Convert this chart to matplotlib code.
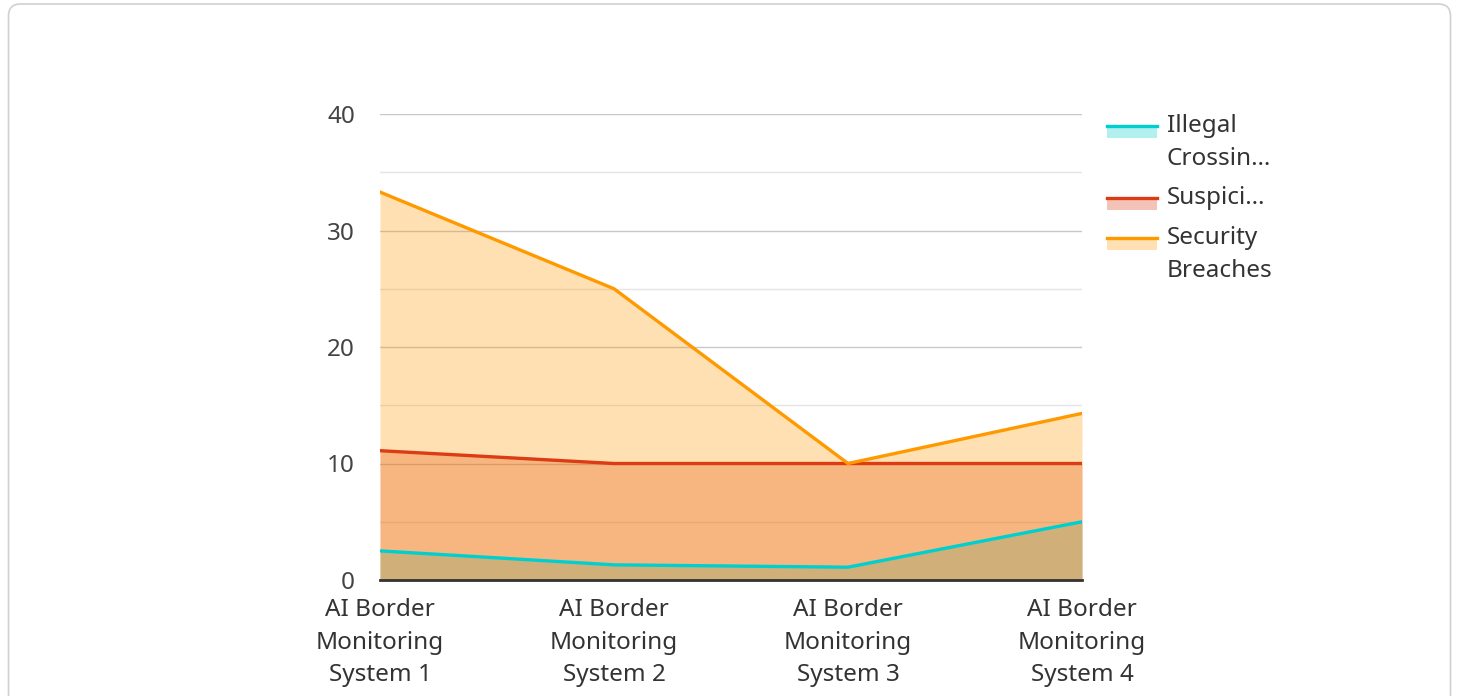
import matplotlib
matplotlib.use("Agg")
import matplotlib.pyplot as plt
from matplotlib.patches import FancyBboxPatch, Rectangle
from matplotlib.lines import Line2D

plt.rcParams["font.family"] = ["Noto Sans", "DejaVu Sans"]

# ── 데이터 ──
systems = ["AI Border\nMonitoring\nSystem 1", "AI Border\nMonitoring\nSystem 2",
           "AI Border\nMonitoring\nSystem 3", "AI Border\nMonitoring\nSystem 4"]
illegal = [2.5, 1.3, 1.1, 5.0]
suspicious = [11.1, 10.0, 10.0, 10.0]
breaches = [33.3, 25.0, 10.0, 14.3]
series_names = ["Illegal\nCrossin…", "Suspici…", "Security\nBreaches"]
yticks = [0, 10, 20, 30, 40]

COLORS = ["#00cfd0", "#dd3b14", "#ff9900"]
FILL_ALPHA = 0.3
FS = 17.5
LS = 1.48
TEXT = "#333333"

W, H = 1458, 696
fig = plt.figure(figsize=(W / 100, H / 100), dpi=100)

# 바깥 테두리 (둥근 사각형, 인치 좌표)
border = FancyBboxPatch((0.085, -0.3), 14.42, 7.22,
                        boxstyle="round,pad=0,rounding_size=0.12",
                        transform=fig.dpi_scale_trans, facecolor="none",
                        edgecolor="#d0d0d0", linewidth=1.2, zorder=-1)
fig.patches.append(border)

ax = fig.add_axes([380 / W, 1 - 580 / H, 702 / W, 466 / H])
ax.set_facecolor("none")

x = list(range(len(systems)))
for vals, c in zip([illegal, suspicious, breaches], COLORS):
    ax.fill_between(x, 0, vals, color=c, alpha=FILL_ALPHA, linewidth=0, zorder=1)
for vals, c in zip([illegal, suspicious, breaches], COLORS):
    ax.plot(x, vals, color=c, linewidth=2.4, zorder=3, solid_joinstyle="miter")

ax.set_xlim(0, 3)
ax.set_ylim(0, 40)
ax.set_yticks(yticks)
ax.set_yticks([5, 15, 25, 35], minor=True)
ax.set_xticks(x)
ax.set_xticklabels(systems, fontsize=FS, color=TEXT, linespacing=LS)
ax.tick_params(axis="y", labelsize=FS, labelcolor="#444444", length=0, pad=18)
ax.tick_params(axis="y", which="minor", length=0)
ax.tick_params(axis="x", length=0, pad=13)

ax.grid(axis="y", which="major", color="#c8c8c8", linewidth=1.0)
ax.grid(axis="y", which="minor", color="#e4e4e4", linewidth=1.0)
ax.set_axisbelow(True)

for s in ["top", "right", "left"]:
    ax.spines[s].set_visible(False)
ax.spines["bottom"].set_color("#333333")
ax.spines["bottom"].set_linewidth(2.0)
ax.spines["bottom"].set_zorder(4)

# ── 범례 (수동) ──
legend_rows = [126, 198, 238]
for name, c, yy in zip(series_names, COLORS, legend_rows):
    fig.add_artist(Rectangle((1107 / W, 1 - (yy + 12) / H), 50 / W, 12 / H,
                             transform=fig.transFigure, facecolor=c,
                             alpha=FILL_ALPHA, edgecolor="none"))
    fig.add_artist(Line2D([1107 / W, 1157 / W], [1 - yy / H, 1 - yy / H],
                          transform=fig.transFigure, color=c, linewidth=2.4))
    fig.text(1167 / W, 1 - (yy - 12) / H, name, fontsize=FS, color=TEXT,
             ha="left", va="top", linespacing=LS)

fig.savefig("out.png", dpi=100, facecolor="white")
